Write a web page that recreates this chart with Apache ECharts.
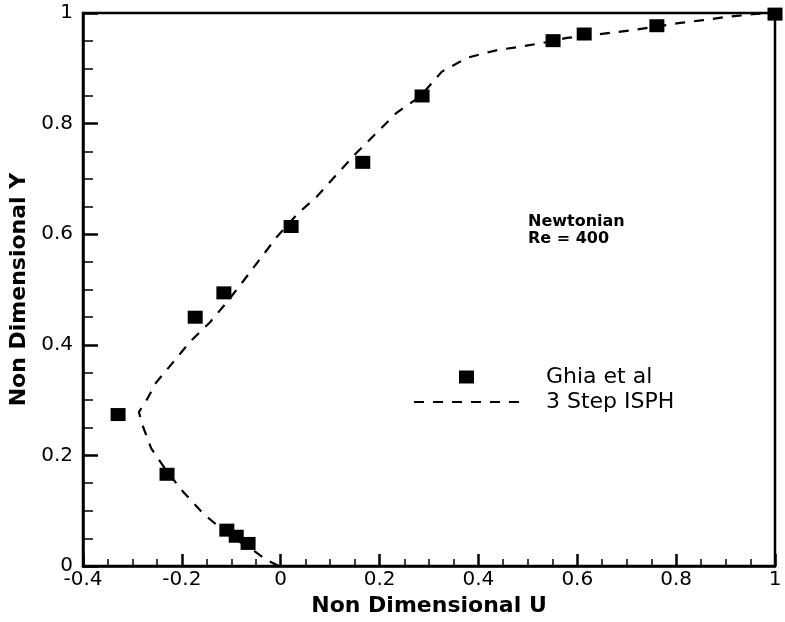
<!DOCTYPE html>
<html>
<head>
<meta charset="utf-8">
<script src="https://cdn.jsdelivr.net/npm/echarts@6/dist/echarts.min.js"></script>
<style>html,body{margin:0;padding:0;background:#fff;}#c{width:785px;height:622px;}</style>
</head>
<body>
<div id="c"></div>
<script>
// Ghia et al (symbols)
var ghiaU = [-0.329, -0.230, -0.109, -0.090, -0.066, -0.173, -0.115, 0.021, 0.166, 0.286, 0.551, 0.614, 0.761, 1.0];
var ghiaY = [0.274, 0.166, 0.065, 0.054, 0.041, 0.450, 0.494, 0.614, 0.730, 0.850, 0.950, 0.962, 0.977, 0.998];
// 3 Step ISPH (dashed line)
var isphU = [-0.004, -0.030, -0.056, -0.080, -0.110, -0.157, -0.198, -0.230, -0.262, -0.281, -0.287, -0.275, -0.252, -0.220, -0.184, -0.143, -0.109, -0.076, -0.042, -0.008, 0.033, 0.073, 0.110, 0.150, 0.190, 0.235, 0.282, 0.326, 0.377, 0.438, 0.484, 0.531, 0.579, 0.666, 0.713, 0.808, 0.854, 0.903, 0.955, 1.0];
var isphY = [0.000, 0.012, 0.029, 0.042, 0.060, 0.095, 0.135, 0.171, 0.213, 0.258, 0.279, 0.294, 0.332, 0.366, 0.405, 0.441, 0.477, 0.515, 0.555, 0.595, 0.636, 0.668, 0.705, 0.744, 0.780, 0.820, 0.849, 0.894, 0.919, 0.933, 0.939, 0.946, 0.955, 0.964, 0.969, 0.982, 0.987, 0.993, 0.998, 1.0];
var seriesNames = ['Ghia et al', '3 Step ISPH'];
var axisNames = ['Non Dimensional U', 'Non Dimensional Y'];
var noteLines = ['Newtonian', 'Re = 400'];

var ghiaData = ghiaU.map(function (u, i) { return [u, ghiaY[i]]; });
var isphData = isphU.map(function (u, i) { return [u, isphY[i]]; });

var chart = echarts.init(document.getElementById('c'), null, {renderer: 'canvas'});
var labelFont = {color: '#000', fontFamily: 'DejaVu Sans', fontSize: 20};
var nameFont = {color: '#000', fontFamily: 'DejaVu Sans', fontWeight: 'bold', fontSize: 22};
chart.setOption({
  animation: false,
  backgroundColor: '#fff',
  grid: {left: 83, right: 10, top: 13, bottom: 54, show: true, borderColor: '#000', borderWidth: 2.5, containLabel: false},
  xAxis: {
    type: 'value', min: -0.4, max: 1, interval: 0.2,
    name: axisNames[0], nameLocation: 'middle', nameGap: 22, nameTextStyle: nameFont,
    axisLine: {show: true, onZero: false, lineStyle: {color: '#000', width: 2.5}},
    axisTick: {show: true, inside: true, length: 12, lineStyle: {color: '#000', width: 2.5}},
    minorTick: {show: true, splitNumber: 4, length: 7, lineStyle: {color: '#000', width: 1.5}},
    splitLine: {show: false},
    axisLabel: Object.assign({margin: 4, formatter: function (v) { return +v.toFixed(1) + ''; }}, labelFont)
  },
  yAxis: {
    type: 'value', min: 0, max: 1, interval: 0.2,
    name: axisNames[1], nameLocation: 'middle', nameGap: 52, nameTextStyle: nameFont,
    axisLine: {show: true, onZero: false, lineStyle: {color: '#000', width: 2.5}},
    axisTick: {show: true, inside: true, length: 15, lineStyle: {color: '#000', width: 2.5}},
    minorTick: {show: true, splitNumber: 4, length: 10, lineStyle: {color: '#000', width: 1.5}},
    splitLine: {show: false},
    axisLabel: Object.assign({margin: 10, formatter: function (v) { return +v.toFixed(1) + ''; }}, labelFont)
  },
  legend: {
    orient: 'vertical', left: 413, top: 365, padding: 0, itemGap: 1,
    itemWidth: 105, itemHeight: 13, symbolKeepAspect: true,
    data: [
      {name: seriesNames[0], icon: 'path://M0,0L15,0L15,13L0,13Z'},
      {name: seriesNames[1], itemStyle: {color: 'rgba(0,0,0,0)', borderWidth: 0, opacity: 0}}
    ],
    textStyle: {color: '#000', fontFamily: 'DejaVu Sans', fontSize: 22, lineHeight: 24, padding: [0, 0, 0, 22]}
  },
  graphic: [{
    type: 'text', left: 528, top: 213, silent: true,
    style: {text: noteLines.join('\n'), fill: '#000', font: 'bold 16px "DejaVu Sans"', lineHeight: 17}
  }],
  series: [{
    name: seriesNames[1], type: 'line', data: isphData, symbol: 'none', showSymbol: false, smooth: false,
    lineStyle: {color: '#000', width: 2.2, type: [10, 9]}, itemStyle: {color: '#000'}, z: 2
  }, {
    name: seriesNames[0], type: 'scatter', data: ghiaData, symbol: 'rect', symbolSize: [15, 13],
    itemStyle: {color: '#000', opacity: 1}, z: 3
  }]
});
</script>
</body>
</html>
